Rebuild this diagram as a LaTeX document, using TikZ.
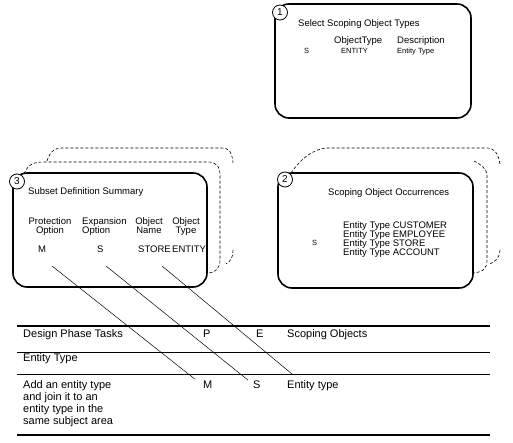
\documentclass[tikz,border=0pt]{standalone}
\usepackage{fontspec}
\setmainfont{Liberation Sans}
\usetikzlibrary{positioning,calc}

\begin{document}
\begin{tikzpicture}[x=1pt, y=-1pt,
    panel/.style={draw, line width=1.6pt, rounded corners=14pt, fill=white},
    ghost/.style={draw, dash pattern=on 3pt off 2pt, line width=0.6pt},
    badge/.style={draw, circle, line width=0.8pt, fill=white, inner sep=0pt,
                  minimum size=15pt, font=\fontsize{10}{10}\selectfont},
    lbl/.style={anchor=base west, inner sep=0pt, font=\fontsize{9.5}{9}\selectfont},
    tiny_lbl/.style={lbl, font=\fontsize{7.5}{8}\selectfont},
    stack/.style={inner sep=0pt, font=\fontsize{9.5}{9}\selectfont},
    cell/.style={anchor=base west, inner sep=0pt, font=\fontsize{11}{12}\selectfont},
    thick_rule/.style={line width=2.4pt},
    thin_rule/.style={line width=0.7pt},
    link/.style={line width=0.5pt}
]
\useasboundingbox (0,0) rectangle (513,443);

% stacked copies behind panel 3
\draw[ghost] (47,161) .. controls (50,152) and (54,148) .. (62,148) -- (222,148)
    .. controls (229,148) and (232,152) .. (233,163);
\draw[ghost] (233,250) .. controls (233,257) and (231,261) .. (226,264);
\draw[ghost] (24,174) .. controls (28,164) and (34,162) .. (44,162) -- (208,162)
    .. controls (216,162) and (220,166) .. (220,176) -- (220,260)
    .. controls (220,268) and (216,273) .. (207,273);

% stacked copies behind panel 2
\draw[ghost] (291,173) .. controls (300,160) and (312,149) .. (327,148) -- (487,148)
    .. controls (495,148) and (499,155) .. (500,165);
\draw[ghost] (500,250) .. controls (500,257) and (496,261) .. (490,264);
\draw[ghost] (474,161) .. controls (480,164) and (487,168) .. (487,176) -- (487,260)
    .. controls (487,268) and (484,272) .. (473,273);

% Panel 1
\node[panel, minimum width=196pt, minimum height=114pt] (box1) at (373,61) {};
\node[badge] (n1) at (280,12.5) {1};
\node[lbl] (p1title) at (298,26.4) {Select Scoping Object Types};
\node[lbl] (p1type) at (334,43.4) {ObjectType};
\node[lbl] (p1desc) at (397,43.4) {Description};
\node[tiny_lbl] (p1sel) at (304,53.7) {S};
\node[tiny_lbl] (p1obj) at (341,53.7) {ENTITY};
\node[tiny_lbl] (p1txt) at (397,53.7) {Entity Type};

% Panel 3
\node[panel, minimum width=194pt, minimum height=114pt] (box3) at (110,230) {};
\node[badge] (n3) at (17,181.5) {3};
\node[lbl] (p3title) at (28,194.4) {Subset Definition Summary};
\node[stack, anchor=north, align=center] (p3prot) at (50,217.5) {Protection\\Option};
\node[stack, anchor=north west, align=left] (p3exp) at (82,217.5) {Expansion\\Option};
\node[stack, anchor=north, align=center] (p3name) at (149,217.5) {Object\\Name};
\node[stack, anchor=north, align=center] (p3type) at (186,217.5) {Object\\Type};
\node[lbl] (p3m) at (38,252.4) {M};
\node[lbl] (p3s) at (97,252.4) {S};
\node[lbl] (p3store) at (138,252.4) {STORE};
\node[lbl] (p3ent) at (172,252.4) {ENTITY};

% Panel 2
\node[panel, minimum width=195pt, minimum height=115pt] (box2) at (375.5,230.5) {};
\node[badge] (n2) at (285,179.5) {2};
\node[lbl] (p2title) at (328,195.4) {Scoping Object Occurrences};
\node[stack, anchor=north west, align=left] (p2list) at (343,221.5)
    {Entity Type CUSTOMER\\Entity Type EMPLOYEE\\Entity Type STORE\\Entity Type ACCOUNT};
\node[tiny_lbl] (p2sel) at (312,245.7) {S};

% Table
\draw[thick_rule] (17,326) -- (490,326);
\draw[thin_rule] (17,352) -- (490,352);
\draw[thin_rule] (17,374) -- (490,374);
\draw[thick_rule] (17,435) -- (490,435);

\node[cell] (hTask) at (23,337) {Design Phase Tasks};
\node[cell] (hP) at (203,337) {P};
\node[cell] (hE) at (256,337) {E};
\node[cell] (hScope) at (287,337) {Scoping Objects};
\node[cell] (rGroup) at (23,361) {Entity Type};
\node[cell, anchor=north west, align=left] (rTask) at (23,380)
    {Add an entity type\\and join it to an\\entity type in the\\same subject area};
\node[cell] (rM) at (203,388) {M};
\node[cell] (rS) at (253,388) {S};
\node[cell] (rObj) at (287,388) {Entity type};

% links from panel 3 into the table
\coordinate (fromM) at (52,266);
\coordinate (fromS) at (106,266);
\coordinate (fromObj) at (162,266);
\draw[link] (fromM) -- ([xshift=-8pt,yshift=1pt]rM.north west);
\draw[link] (fromS) -- ([xshift=-5pt]rS.north west);
\draw[link] (fromObj) -- ([xshift=6pt,yshift=5pt]rObj.north west);

\end{tikzpicture}
\end{document}
